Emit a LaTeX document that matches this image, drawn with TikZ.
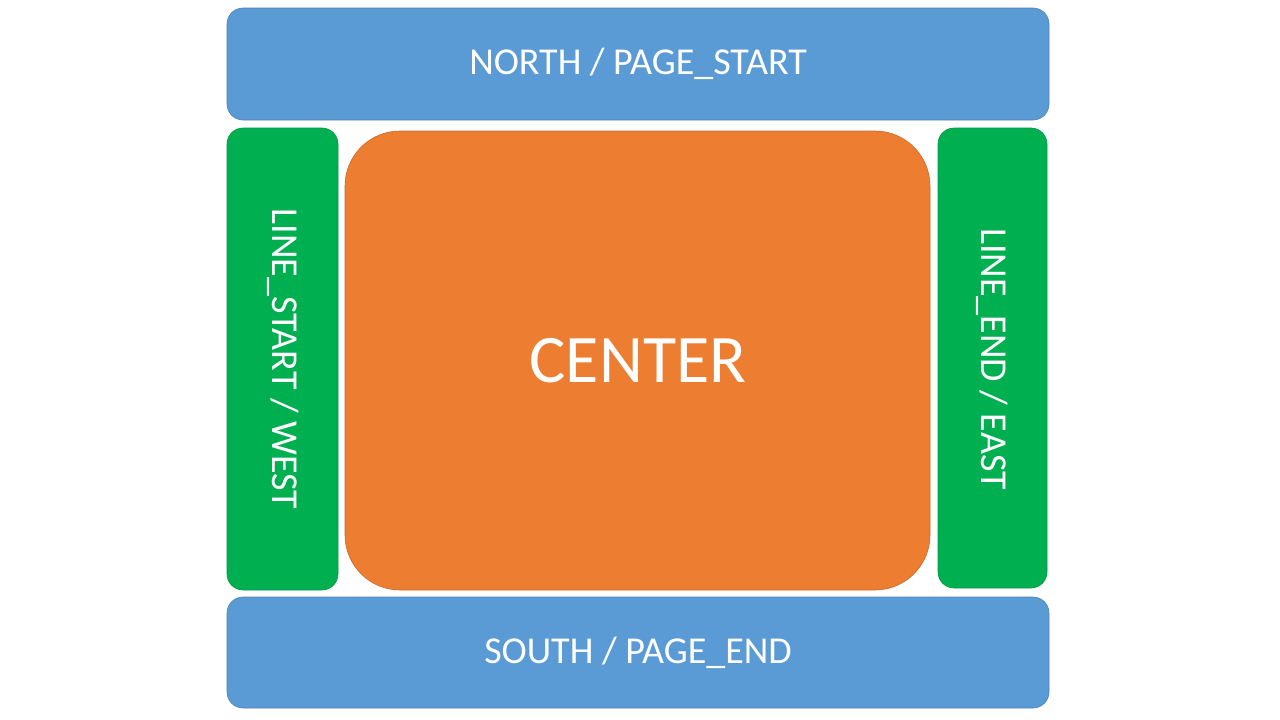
\documentclass[tikz,border=0pt]{standalone}
\usepackage{fontspec}
\setmainfont{Carlito}
\definecolor{bl}{HTML}{5B9BD5}
\definecolor{gr}{HTML}{00B050}
\definecolor{orr}{HTML}{ED7D31}
\begin{document}
\begin{tikzpicture}[x=1pt,y=-1pt,
 region/.style={draw=#1!85!black,line width=0.6pt,fill=#1,rounded corners=16pt},
 lbl/.style={text=white,font=\fontsize{38}{40}\selectfont}]
\useasboundingbox[fill=white] (0,0) rectangle (1280,720);
\draw[region=bl] (227,8) rectangle (1049,120);
\draw[region=bl] (227,597) rectangle (1049,708);
\draw[region=gr] (227,128) rectangle (338,590);
\draw[region=gr] (938,128) rectangle (1047,588);
\draw[region=orr,rounded corners=55pt] (345,131) rectangle (930,590);
\node[lbl] (n) at (638,64) {NORTH / PAGE\_START};
\node[lbl] (s) at (638,653) {SOUTH / PAGE\_END};
\node[lbl,rotate=-90] (w) at (283,359) {LINE\_START / WEST};
\node[lbl,rotate=-90] (e) at (992,359) {LINE\_END / EAST};
\node[text=white,font=\fontsize{68}{70}\selectfont] (c) at (638,361) {CENTER};
\end{tikzpicture}
\end{document}
